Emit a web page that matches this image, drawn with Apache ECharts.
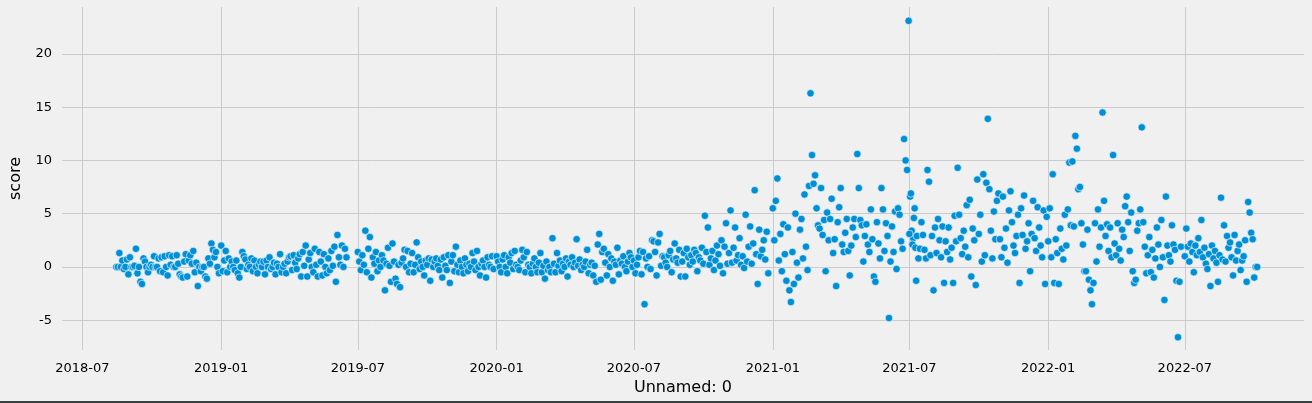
<!DOCTYPE html>
<html>
<head>
<meta charset="utf-8">
<script src="https://cdn.jsdelivr.net/npm/echarts@6/dist/echarts.min.js"></script>
<style>html,body{margin:0;padding:0;background:#f0f0f0}#c{width:1312px;height:401px;border-bottom:2px solid #3a3f3f}</style>
</head>
<body>
<div id="c"></div>
<script>
// scores every 2 days, one array per half-year, starting at the given date
const s2018 = [0,0,1.3,0,0.6,-0.2,0,0.7,-0.7,0.9,0,0,0.1,1.7,-0.6,0,-1.4,-1.6,0.8,0.5,0,-0.5,0,0.2,0,1.0,0,0,0.8,-0.4,0.9,-0.5,1.0,0,-0.8,1.1,0.2,1.0,0,0,1.1,0.3,-0.7,-0.9,-1.0,0.5,1.2,-0.9,0.6,1.1,0.3,1.5,-0.5,0.4,-1.8,0,-0.4,0,0,-0.9,-1.1,0.8,0.3,2.2,1.6,0.9,1.4,0,-0.6];
const s2019a = [2.0,-0.4,0.6,1.5,-0.5,0.8,0,0.5,0,-0.3,0.6,-0.6,-1.0,0,1.4,1.0,0.7,-0.2,0.2,0,0.8,-0.4,0.6,0,-0.6,0.2,0.5,0,0.5,-0.7,0.6,0,0.9,-0.2,0,0.4,-0.7,0.3,0,1.2,-0.5,0,0.3,-0.6,0.5,0.9,1.0,-0.3,1.1,0.4,-0.2,0.8,1.2,-0.9,1.4,0.1,2.0,-0.9,0.7,1.3,0,-0.5,1.7,0.2,-0.9,1.4,0.5,-0.8,1.2,0,-0.6,0.8,-0.3,1.5,0.1,1.9,-1.4,3.0,0.9,0.2,2.0,0,1.7,0.9];
const s2019b = [1.4,0.5,-0.3,1.1,0.2,3.4,-0.5,1.7,2.8,-1.0,0.9,0.3,1.4,-0.4,0.6,0,1.1,0.6,-2.2,0.3,1.8,0.1,-1.4,2.2,0.5,-1.1,-1.6,0.2,-1.9,0.4,0.8,1.6,0,1.5,-0.5,0.3,1.3,-0.5,0.2,2.3,0.9,-0.2,0.5,0,-0.8,0.6,0.2,0.8,-1.3,0.7,0,0.5,0.8,0.1,-0.3,0.7,-1.0,0.9,0.1,-0.3,1.1,-1.5,0.5,1.1,-0.4,1.9,0.2,-0.5,0.6,0,-0.6,0.8,0.2,-0.4,0.3,0,1.3,0.5,-0.3,1.5,0,-0.8,0.3,0.6,0,-1.0,0.9,0.2,0,1.0,-0.2];
const s2020a = [1.0,0.5,0,-0.5,0.7,1.1,0,-0.6,0.9,0.4,1.3,-0.2,1.5,0.2,0,-0.3,0.6,1.6,0.9,-0.5,1.4,0.2,0,-0.6,0.3,0.8,0,-0.5,0.4,1.3,-0.5,0.1,-1.1,0.5,-0.3,0,-0.5,2.7,0.3,-0.5,1.3,0.1,0.6,-0.4,0.3,0,0.8,-0.9,0.5,0.2,0.9,0,0.4,2.6,0.1,0.7,-0.3,0.2,0,0.5,1.6,-0.6,0.2,0.4,-0.8,0.1,-1.4,2.1,3.1,-1.2,1.4,1.7,0.4,-0.8,1.2,0,0.8,-1.3,0.5,0.2,1.8,-0.7,0.6,0.3,1.0,0,-0.4,0.5,1.3,0.9,0];
const s2020b = [0.6,-0.6,0.2,0.9,1.5,-0.7,1.4,-3.5,0.8,0,1.0,-0.2,2.5,2.4,1.4,-0.8,2.3,3.1,0.1,1.0,0.9,0.4,0,1.1,1.5,-0.5,0.7,2.2,0.8,0.4,1.6,-0.9,0.5,1.3,-0.9,1.7,0.9,0.2,1.1,0.5,1.6,1.3,-0.4,0.9,0.6,1.8,0.3,4.8,1.4,3.7,0.2,0.8,1.5,-0.3,0.6,2.0,1.2,0.1,2.5,-0.6,1.9,4.1,0.3,1.3,5.3,0.4,1.8,3.7,0.6,1.1,2.7,0.2,1.0,-0.1,4.9,0.5,1.9,3.8,0.3,2.2,7.2,1.2,-1.6,3.5,1.0,1.6,2.5,0.7,3.3,-0.6];
const s2021a = [5.5,2.5,6.2,8.3,0.6,3.1,-0.4,4.0,1.2,-1.3,3.7,-2.2,-3.3,1.4,-1.6,5.0,0.4,-1.0,3.5,4.5,0.8,6.8,1.9,-0.3,7.6,16.3,10.5,7.8,8.6,5.5,3.9,3.6,7.4,3.0,4.4,-0.4,5.1,2.5,4.5,6.4,1.3,2.6,-1.8,4.2,5.6,7.4,2.1,1.4,3.2,4.5,1.5,-0.8,2.0,3.7,4.5,2.8,10.6,7.4,4.4,3.9,0.5,2.9,4.0,2.1,1.4,5.4,2.6,-0.9,-1.4,4.2,2.2,0.8,7.4,5.4,1.5,4.1,2.9,-4.8,0.5,3.8,1.4,5.2,-0.2,5.5,4.9,2.4,1.7,12.0,10.0,9.1,23.1,6.6,3.4,2.7,5.5,-1.3];
const s2021b = [3.1,6.9,2.1,4.6,1.8,2.9,0.8,1.7,4.2,3.0,1.6,0.8,9.1,8.0,1.1,2.9,-2.2,3.7,1.3,4.5,2.5,0.9,3.8,-1.5,2.4,1.4,3.7,0.7,1.8,-1.5,4.8,2.4,9.3,4.9,2.7,1.2,3.4,1.9,5.8,0.9,6.3,-0.9,3.6,2.5,-1.7,8.2,3.1,4.9,0.5,8.7,1.1,7.9,13.9,7.3,3.4,0.8,5.2,2.6,6.2,6.9,2.6,0.9,6.6,1.8,3.6,0.4,5.3,7.1,4.2,2.0,1.3,2.9,4.9,-1.5,5.5,3.0,6.7,1.7,2.4,4.1,-0.4,3.1,6.2,2.7,1.5,5.6,3.7,2.0,0.9,5.3,-1.6,4.7];
const s2022a = [2.4,5.5,0.9,8.7,-1.5,2.6,1.3,-1.6,3.6,1.7,0.7,4.9,2.0,5.4,9.8,3.9,9.9,3.8,12.3,11.1,7.3,7.5,4.1,2.1,-0.4,-0.4,3.5,-1.2,-2.2,-3.5,-1.5,4.1,0.5,5.4,1.9,3.7,14.5,6.2,2.9,4.0,1.5,3.7,0.9,10.5,2.2,1.1,4.1,1.7,0.6,3.5,2.8,5.7,6.6,4.2,1.5,5.1,-0.4,-1.5,-1.2,3.4,4.1,5.4,13.1,4.2,1.9,-0.6,1.1,2.8,-0.5,1.6,-1.0,0.8,3.7,2.1,0,4.4,0.9,-3.1,6.6,2.0,1.1,0.5,3.9,2.1,1.6,-1.3,-6.6,-1.4,1.9];
const s2022b = [1.0,3.6,1.9,0.5,2.2,1.4,-0.5,2.0,1.1,2.7,1.4,4.4,0.9,1.8,0.3,-0.2,1.2,-1.8,2.0,0.8,1.5,0.4,-1.4,1.1,6.5,0.7,3.9,0.5,2.9,1.8,2.3,0.9,-0.8,3.0,0.6,1.5,2.1,-0.3,0.6,1.0,2.5,-1.4,6.1,5.1,3.2,2.6,-1.0,0,0];
const segments = [
  ['2018-08-15', s2018], ['2019-01-01', s2019a], ['2019-07-01', s2019b],
  ['2020-01-01', s2020a], ['2020-07-01', s2020b], ['2021-01-01', s2021a],
  ['2021-07-01', s2021b], ['2022-01-01', s2022a], ['2022-07-01', s2022b]
];
const yTicks = [-5, 0, 5, 10, 15, 20];
const xTicks = ['2018-07','2019-01','2019-07','2020-01','2020-07','2021-01','2021-07','2022-01','2022-07'];

const DAY = 86400000;
let points = [];
segments.forEach(([start, vals]) => {
  const t0 = Date.parse(start + 'T00:00:00Z');
  vals.forEach((v, i) => points.push([t0 + i * 2 * DAY, v]));
});
const tickTimes = xTicks.map(s => Date.parse(s + '-01T00:00:00Z'));

const chart = echarts.init(document.getElementById('c'));
const font = 'DejaVu Sans';
chart.setOption({
  backgroundColor: '#f0f0f0',
  animation: false,
  grid: {left: 55, right: 8, top: 7, bottom: 48},
  xAxis: {
    type: 'value',
    min: Date.parse('2018-06-04T00:00:00Z'),
    max: Date.parse('2022-12-06T00:00:00Z'),
    name: 'Unnamed: 0', nameLocation: 'middle', nameGap: 30,
    nameTextStyle: {fontFamily: font, fontSize: 16, color: '#000'},
    axisLine: {show: false},
    axisTick: {show: false, customValues: tickTimes},
    axisLabel: {
      fontFamily: font, fontSize: 13, color: '#000', margin: 12,
      customValues: tickTimes, showMinLabel: true, showMaxLabel: true,
      formatter: v => { const d = new Date(v); return d.getUTCFullYear() + '-' + String(d.getUTCMonth() + 1).padStart(2, '0'); }
    },
    splitLine: {show: true, lineStyle: {color: '#cbcbcb', width: 1}, customValues: tickTimes}
  },
  yAxis: {
    type: 'value', min: -7.8, max: 24.4,
    name: 'score', nameLocation: 'middle', nameGap: 38,
    nameTextStyle: {fontFamily: font, fontSize: 16, color: '#000'},
    axisLine: {show: false},
    axisTick: {show: false, customValues: yTicks},
    axisLabel: {fontFamily: font, fontSize: 13, color: '#000', margin: 10, customValues: yTicks},
    splitLine: {show: true, lineStyle: {color: '#cbcbcb', width: 1}, customValues: yTicks}
  },
  series: [{
    type: 'scatter', data: points, symbolSize: 7.5,
    itemStyle: {color: '#008fd5', borderColor: '#ffffff', borderWidth: 0.6, opacity: 1}
  }]
});
</script>
</body>
</html>
